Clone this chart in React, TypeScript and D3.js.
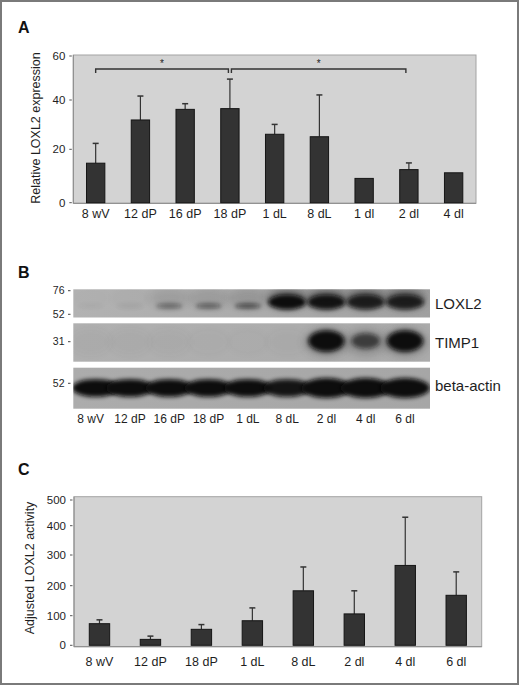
import React from 'react';
import * as d3 from 'd3';

// ---------- Panel A data ----------
const catsA = ['8 wV', '12 dP', '16 dP', '18 dP', '1 dL', '8 dL', '1 dl', '2 dl', '4 dl'];
const meanA = [14.8, 31.9, 36.2, 36.5, 26.1, 25.1, 9.1, 12.4, 11.2];
const errTopA: (number | null)[] = [22.4, 41.8, 38.5, 49.5, 30.1, 42.3, null, 14.9, null];
const ticksA = [0, 20, 40, 60];
const sigPairs = [['8 wV', '18 dP'], ['18 dP', '2 dl']];

// ---------- Panel B data ----------
const lanesB = ['8 wV', '12 dP', '16 dP', '18 dP', '1 dL', '8 dL', '2 dl', '4 dl', '6 dl'];
const loxl2Band = [0.03, 0.06, 0.45, 0.5, 0.62, 1, 0.95, 0.85, 0.85];
const timp1Band = [0.08, 0.08, 0.07, 0.04, 0.03, 0.05, 1, 0.62, 1];
const actinBand = [1, 1, 1, 1, 1, 0.95, 1, 1, 1];
const blotNames = ['LOXL2', 'TIMP1', 'beta-actin'];
const loxl2Markers = ['76', '52'];
const timp1Markers = ['31'];
const actinMarkers = ['52'];

// ---------- Panel C data ----------
const catsC = ['8 wV', '12 dP', '18 dP', '1 dL', '8 dL', '2 dl', '4 dl', '6 dl'];
const meanC = [73, 20, 54, 83, 183, 106, 266, 168];
const errTopC = [86, 31, 70, 126, 261, 183, 433, 245];
const ticksC = [0, 100, 200, 300, 400, 500];

const FONT = '"Liberation Sans", Arial, Helvetica, sans-serif';
const TXT = '#1e1e1e';

type BarProps = {
  cats: string[];
  mean: number[];
  errTop: (number | null)[];
  ticks: number[];
  yRange: number[];
  left: number;
  right: number;
  top: number;
  bottom: number;
  labelBaseline: number;
  title: string;
  titleX: number;
  titleY: number;
  pad: number;
};

function BarPanel(p: BarProps) {
  const x = d3.scaleBand<string>().domain(p.cats).range([p.left, p.right]).paddingInner(p.pad).paddingOuter(p.pad / 2);
  const y = d3.scaleLinear().domain(p.ticks).range(p.yRange);
  const bw = x.bandwidth();
  return (
    <g>
      <rect x={p.left} y={p.top} width={p.right - p.left} height={p.bottom - p.top} fill="#d3d3d3" stroke="#a3a3a3" strokeWidth={1} />
      <line x1={p.left} x2={p.left} y1={p.top} y2={p.bottom} stroke="#8a8a8a" strokeWidth={1} />
      <line x1={p.left} x2={p.right} y1={p.bottom} y2={p.bottom} stroke="#8a8a8a" strokeWidth={1} />
      {p.ticks.map((t) => (
        <g key={t}>
          <line x1={p.left - 4} x2={p.left - 1.5} y1={y(t)} y2={y(t)} stroke="#555" strokeWidth={1} />
          <text x={p.left - 8} y={y(t)} dy="0.36em" textAnchor="end" fontSize={11.5} fill={TXT} fontFamily={FONT}>{t}</text>
        </g>
      ))}
      {p.cats.map((c, i) => {
        const cx = (x(c) as number) + bw / 2;
        const e = p.errTop[i];
        return (
          <g key={c}>
            {e != null && (
              <g stroke="#333" strokeWidth={1.2}>
                <line x1={cx} x2={cx} y1={y(p.mean[i])} y2={y(e)} />
                <line x1={cx - 3} x2={cx + 3} y1={y(e)} y2={y(e)} strokeWidth={1.5} />
              </g>
            )}
            <rect x={x(c)} y={y(p.mean[i])} width={bw} height={y(0) - y(p.mean[i])} fill="#333333" stroke="#151515" strokeWidth={1} />
            <text x={cx} y={p.labelBaseline} textAnchor="middle" fontSize={12.5} fill={TXT} fontFamily={FONT}>{c}</text>
          </g>
        );
      })}
      <text transform={`translate(${p.titleX},${p.titleY}) rotate(-90)`} textAnchor="middle" fontSize={12.5} fill={TXT} fontFamily={FONT}>{p.title}</text>
    </g>
  );
}

function SigBrackets() {
  const x = d3.scaleBand<string>().domain(catsA).range([73.3, 476]).paddingInner(0.59).paddingOuter(0.295);
  const c = (k: string) => (x(k) as number) + x.bandwidth() / 2;
  const by = 69;
  return (
    <g>
      {sigPairs.map(([a, b], i) => {
        const x1 = c(a) + (i === 1 ? 1.5 : 0);
        const x2 = c(b) - (i === 0 ? 1.5 : 0) - (i === 1 ? 3 : 0);
        return (
          <g key={i}>
            <path d={`M${x1},${by + 4}V${by}H${x2}V${by + 4}`} stroke="#333" strokeWidth={1.4} fill="none" />
            <text x={(x1 + x2) / 2} y={by - 2} textAnchor="middle" fontSize={10} fill="#222" fontFamily={FONT}>*</text>
          </g>
        );
      })}
    </g>
  );
}

function Blot() {
  const left = 73.3, right = 430;
  const lane = d3.scalePoint<string>().domain(lanesB).range([90.7, 405]);
  const panels = [
    { top: 289.3, bottom: 317.5, bg: 'url(#gLox)' },
    { top: 323.3, bottom: 361.7, bg: 'url(#gTimp)' },
    { top: 367.7, bottom: 408.7, bg: 'url(#gAct)' },
  ];
  const kda = d3.scaleLog().domain([52, 76]).range([314.3, 290.7]);
  return (
    <g>
      <defs>
        <filter id="bl" x="-50%" y="-80%" width="200%" height="260%">
          <feGaussianBlur stdDeviation="2.2" />
        </filter>
        <filter id="bl2" x="-50%" y="-80%" width="200%" height="260%">
          <feGaussianBlur stdDeviation="4.5" />
        </filter>
        <linearGradient id="gLox" x1="0" x2="1" y1="0" y2="0">
          <stop offset="0" stopColor="#b2b2b2" />
          <stop offset="0.6" stopColor="#aaaaaa" />
          <stop offset="1" stopColor="#a0a0a0" />
        </linearGradient>
        <linearGradient id="gTimp" x1="0" x2="1" y1="0" y2="0">
          <stop offset="0" stopColor="#b0b0b0" />
          <stop offset="1" stopColor="#ababab" />
        </linearGradient>
        <linearGradient id="gAct" x1="0" x2="1" y1="0" y2="0">
          <stop offset="0" stopColor="#acacac" />
          <stop offset="1" stopColor="#a6a6a6" />
        </linearGradient>
        {panels.map((pn, i) => (
          <clipPath id={`clip${i}`} key={i}>
            <rect x={left} y={pn.top} width={right - left} height={pn.bottom - pn.top} />
          </clipPath>
        ))}
      </defs>
      {panels.map((pn, i) => (
        <rect key={i} x={left} y={pn.top} width={right - left} height={pn.bottom - pn.top} fill={pn.bg} />
      ))}
      <g clipPath="url(#clip0)">
        {lanesB.map((l, i) => {
          const v = loxl2Band[i];
          const strong = v > 0.8;
          return (
            <g key={l}>
              <ellipse cx={lane(l)} cy={298} rx={20} ry={10} fill="#2a2a2a" opacity={strong ? 0.5 : v * 0.25} filter="url(#bl2)" />
              <ellipse cx={lane(l)} cy={strong ? 302 : 306} rx={strong ? 19 : 13} ry={strong ? 7.5 : 2.6} fill="#0c0c0c" opacity={v} filter="url(#bl)" />
            </g>
          );
        })}
      </g>
      <g clipPath="url(#clip1)">
        {lanesB.map((l, i) => {
          const v = timp1Band[i];
          return (
            <g key={l}>
              <ellipse cx={lane(l)} cy={342} rx={21} ry={13} fill="#444" opacity={v * 0.5} filter="url(#bl2)" />
              <ellipse cx={lane(l)} cy={341} rx={8 + 10 * v} ry={3 + 7.5 * v} fill="#0c0c0c" opacity={v > 0.3 ? v : 0} filter="url(#bl)" />
            </g>
          );
        })}
      </g>
      <g clipPath="url(#clip2)">
        {lanesB.map((l, i) => {
          const v = actinBand[i];
          return (
            <ellipse key={l} cx={(lane(l) as number) + (i === 0 ? 5 : 0)} cy={388} rx={i >= 6 ? 25 : 24} ry={i >= 6 ? 10 : 8.8} fill="#0a0a0a" opacity={v} filter="url(#bl)" />
          );
        })}
      </g>
      {loxl2Markers.map((m) => (
        <g key={'l' + m}>
          <text x={64.5} y={kda(+m)} dy="0.36em" textAnchor="end" fontSize={10.5} fill={TXT} fontFamily={FONT}>{m}</text>
          <line x1={68} x2={70.5} y1={kda(+m)} y2={kda(+m)} stroke="#444" />
        </g>
      ))}
      {timp1Markers.map((m) => (
        <g key={'t' + m}>
          <text x={64.5} y={341.7} dy="0.36em" textAnchor="end" fontSize={10.5} fill={TXT} fontFamily={FONT}>{m}</text>
          <line x1={68} x2={70.5} y1={341.7} y2={341.7} stroke="#444" />
        </g>
      ))}
      {actinMarkers.map((m) => (
        <g key={'a' + m}>
          <text x={64.5} y={383.3} dy="0.36em" textAnchor="end" fontSize={10.5} fill={TXT} fontFamily={FONT}>{m}</text>
          <line x1={68} x2={70.5} y1={383.3} y2={383.3} stroke="#444" />
        </g>
      ))}
      {blotNames.map((n, i) => (
        <text key={n} x={435} y={(panels[i].top + panels[i].bottom) / 2 + (i === 2 ? -3 : 0)} dy="0.36em" fontSize={15} fill={TXT} fontFamily={FONT}>{n}</text>
      ))}
      {lanesB.map((l) => (
        <text key={l} x={lane(l)} y={423} textAnchor="middle" fontSize={12} fill={TXT} fontFamily={FONT}>{l}</text>
      ))}
    </g>
  );
}

export default function App() {
  return (
    <div style={{ position: 'absolute', left: 0, top: 0 }}>
      <svg width={520} height={686} style={{ display: 'block' }}>
        <rect x={0} y={0} width={520} height={686} fill="#fff" />
        <rect x={1} y={1} width={517} height={683} fill="none" stroke="#7a7a7a" strokeWidth={2} />
        <text x={18} y={33} fontSize={16} fontWeight="bold" fill="#111" fontFamily={FONT}>A</text>
        <text x={18} y={278} fontSize={16} fontWeight="bold" fill="#111" fontFamily={FONT}>B</text>
        <text x={18} y={475} fontSize={16} fontWeight="bold" fill="#111" fontFamily={FONT}>C</text>
        <BarPanel
          cats={catsA} mean={meanA} errTop={errTopA} ticks={ticksA}
          yRange={[202.7, 149.3, 100, 56]}
          left={73.3} right={476} top={55} bottom={203.3}
          labelBaseline={218} title="Relative LOXL2 expression" titleX={40} titleY={128} pad={0.59}
        />
        <SigBrackets />
        <Blot />
        <BarPanel
          cats={catsC} mean={meanC} errTop={errTopC} ticks={ticksC}
          yRange={[645.3, 615.7, 585.7, 555, 525.7, 500]}
          left={74} right={481.7} top={496.7} bottom={646.7}
          labelBaseline={666} title="Adjusted LOXL2 activity" titleX={34} titleY={568} pad={0.6}
        />
      </svg>
    </div>
  );
}
